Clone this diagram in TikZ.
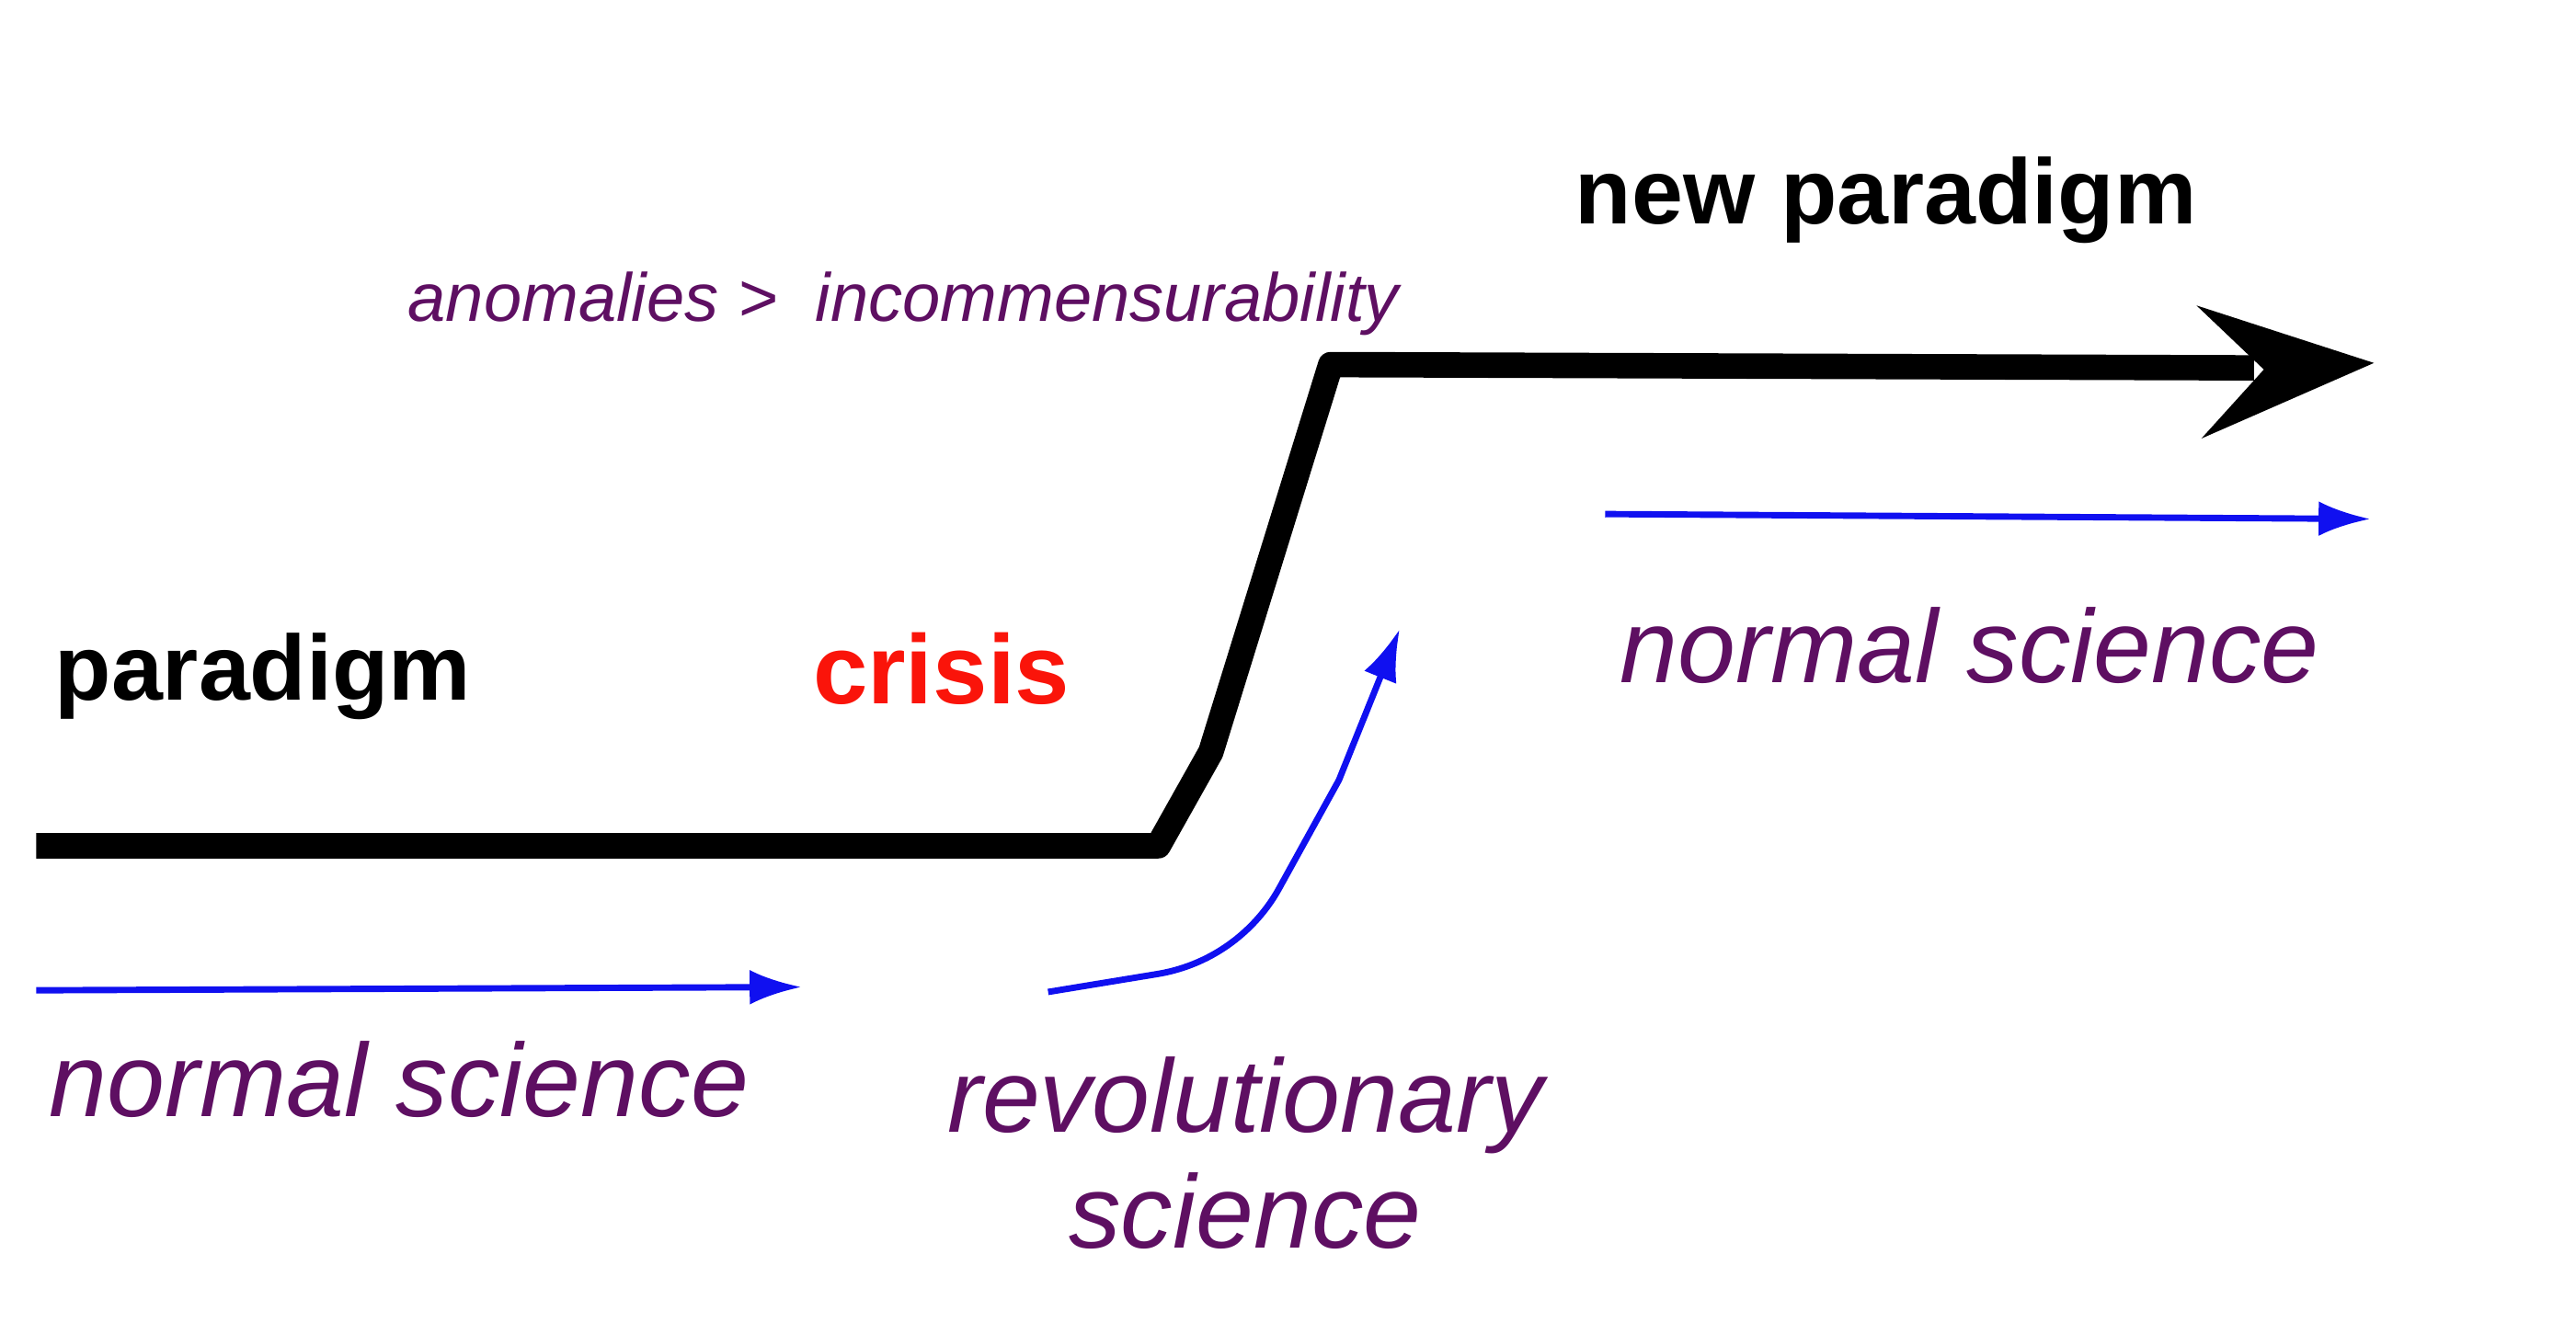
\documentclass[tikz,border=0pt]{standalone}
\usepackage{fontspec}
\setmainfont{Liberation Sans}
\usetikzlibrary{arrows.meta}
\definecolor{purp}{HTML}{5E0F62}
\definecolor{bl}{HTML}{1010F0}
\tikzset{
 thick line/.style={line width=4.4pt, line join=round},
 blue arrow/.style={draw=bl, line width=1.1pt, -{Latex[length=9pt,width=6pt]}},
 boldlbl/.style={font=\bfseries\fontsize{16}{18}\selectfont},
 ital/.style={text=purp, font=\itshape\fontsize{18}{21}\selectfont},
}
\begin{document}
\begin{tikzpicture}[x=0.01cm,y=-0.01cm]
\useasboundingbox (0,0) rectangle (1568,812);
\coordinate (s) at (22,515);
\coordinate (k1) at (705,515);
\coordinate (k2) at (737,458);
\coordinate (k3) at (810,222);
\coordinate (e) at (1372,224);
\draw[thick line] (s) -- (k1) -- (k2) -- (k3) -- (e);
\fill (1337,186) -- (1445,221) -- (1340,267) -- (1378,225) -- cycle;
\coordinate (a1) at (22,603); \coordinate (a2) at (488,601);
\draw[blue arrow] (a1) -- (a2);
\coordinate (b1) at (977,313); \coordinate (b2) at (1443,316);
\draw[blue arrow] (b1) -- (b2);
\coordinate (r1) at (638,604); \coordinate (r2) at (705,593);
\coordinate (r3) at (778,542); \coordinate (r4) at (815,475); \coordinate (r5) at (852,383);
\draw[blue arrow] (r1) -- (r2) .. controls (740,587) and (765,565) .. (r3) -- (r4) -- (r5);
\node[boldlbl] (p) at (160,412) {paradigm};
\node[boldlbl, font=\bfseries\fontsize{17}{19}\selectfont, text={rgb,255:red,250;green,20;blue,10}] (c) at (573,407) {crisis};
\node[boldlbl] (np) at (1148,122) {new paradigm};
\node[text=purp, font=\itshape\fontsize{11.8}{13}\selectfont, anchor=west] (an) at (236,185) {anomalies >\ \ incommensurability};
\node[ital] (n1) at (243,657) {normal science};
\node[ital] (n2) at (1199,393) {normal science};
\node[ital, align=center] (rv) at (758,702) {revolutionary\\[-1pt]science};
\end{tikzpicture}
\end{document}
